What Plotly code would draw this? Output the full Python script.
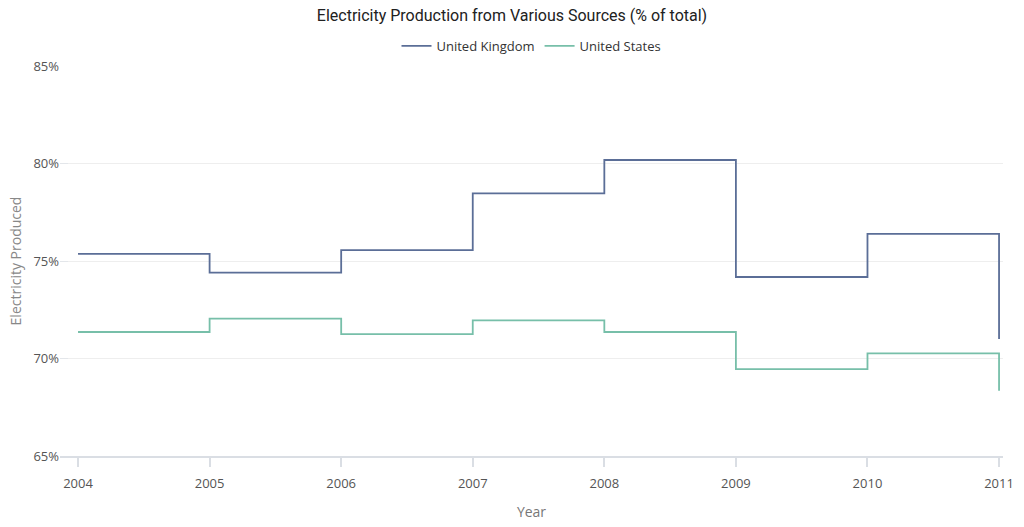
import plotly.graph_objects as go

years = [2004, 2005, 2006, 2007, 2008, 2009, 2010, 2011]
uk_values = [75.37, 74.40, 75.56, 78.47, 80.18, 74.18, 76.39, 71.0]
us_values = [71.36, 72.05, 71.25, 71.96, 71.36, 69.46, 70.26, 68.34]
y_ticks = [65, 70, 75, 80, 85]

fig = go.Figure()
fig.add_trace(go.Scatter(
    x=years, y=uk_values, name="United Kingdom", mode="lines",
    line=dict(shape="hv", color="#5b6e97", width=1.8),
))
fig.add_trace(go.Scatter(
    x=years, y=us_values, name="United States", mode="lines",
    line=dict(shape="hv", color="#77bfa9", width=1.8),
))

fig.update_layout(
    width=1024, height=527,
    paper_bgcolor="white", plot_bgcolor="white",
    margin=dict(l=60, r=21, t=66, b=71, autoexpand=False),
    font=dict(family="Open Sans, Noto Sans, sans-serif", color="#555555", size=12),
    title=dict(
        text="Electricity Production from Various Sources (% of total)",
        x=0.5, xanchor="center", yref="container", y=1 - 15 / 527, yanchor="middle",
        font=dict(family="Roboto, sans-serif", size=16, color="#212121"),
    ),
    legend=dict(
        orientation="h", x=0.5, xanchor="center",
        yref="paper", y=1 + 20 / 390, yanchor="middle",
        font=dict(size=13, color="#333333"),
        itemwidth=30,
    ),
    showlegend=True,
)

fig.update_xaxes(
    range=[2003.863, 2011.03], automargin=False,
    tickvals=years, ticktext=[str(y) for y in years],
    showgrid=False, zeroline=False,
    showline=True, linecolor="#dadee4", linewidth=1.5,
    ticks="outside", ticklen=9, tickcolor="#dadee4", tickwidth=1.5,
    ticklabelstandoff=6,
    tickfont=dict(size=13, color="#555555"),
    title=dict(text="Year", font=dict(size=14, color="#777777"), standoff=16),
)
fig.update_yaxes(
    range=[65, 85], automargin=False,
    tickvals=y_ticks, ticktext=[f"{v}%" for v in y_ticks],
    showgrid=True, gridcolor="#eeeeee", gridwidth=1,
    zeroline=False, showline=False,
    ticks="inside", ticklen=8, tickcolor="#e3e6ea",
    tickfont=dict(size=13, color="#555555"),
    title=dict(text="Electricity Produced", font=dict(size=14, color="#888888"), standoff=8),
)

fig.write_html("out.html", config={"displayModeBar": False},
               post_script="document.body.style.margin='0';")
